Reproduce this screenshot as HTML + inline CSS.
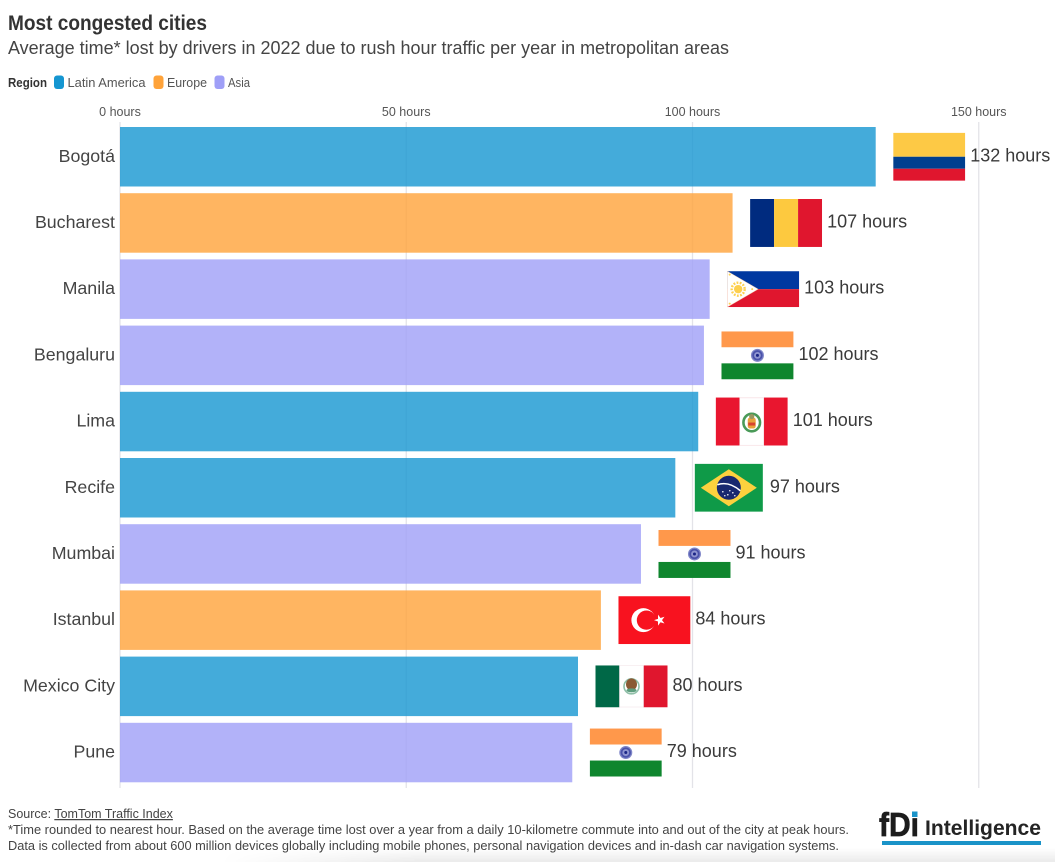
<!DOCTYPE html>
<html lang="en">
<head>
<meta charset="utf-8">
<title>Most congested cities</title>
<style>
html,body{margin:0;padding:0;background:#fff;}
body{width:1055px;height:862px;overflow:hidden;font-family:"Liberation Sans",sans-serif;}
svg{display:block;}
text{font-family:"Liberation Sans",sans-serif;fill:#3a3a3a;}
</style>
</head>
<body>
<svg id="chart" width="1055" height="862" viewBox="0 0 1055 862" xmlns="http://www.w3.org/2000/svg">
  <defs>
    <linearGradient id="bottom-shade" x1="0" y1="0" x2="0" y2="1">
      <stop offset="0" stop-color="#000" stop-opacity="0"/>
      <stop offset="1" stop-color="#000" stop-opacity="0.08"/>
    </linearGradient>
    <linearGradient id="side-fade" gradientUnits="userSpaceOnUse" x1="220" y1="0" x2="420" y2="0">
      <stop offset="0" stop-color="#000"/>
      <stop offset="1" stop-color="#fff"/>
    </linearGradient>
    <mask id="side-mask" maskUnits="userSpaceOnUse" x="0" y="840" width="1055" height="22">
      <rect x="0" y="840" width="1055" height="22" fill="url(#side-fade)"/>
    </mask>
    <symbol id="flag-co" viewBox="0 0 72 48" width="72" height="48">
      <rect width="72" height="24" fill="#fdc945"/><rect y="24" width="72" height="12" fill="#003f8f"/><rect y="36" width="72" height="12" fill="#e0162e"/>
    </symbol>
    <symbol id="flag-ro" viewBox="0 0 72 48" width="72" height="48">
      <rect width="24" height="48" fill="#002b7f"/><rect x="24" width="24" height="48" fill="#fdc93f"/><rect x="48" width="24" height="48" fill="#e0162e"/>
    </symbol>
    <symbol id="flag-ph" viewBox="0 0 72 36" width="72" height="36">
      <rect width="72" height="18" fill="#0038a0"/><rect y="18" width="72" height="18" fill="#e0162e"/>
      <polygon points="0,0 31,18 0,36" fill="#fff" stroke="#f0c8a8" stroke-width=".5"/>
      <circle cx="11" cy="18" r="4.2" fill="#fdd04f"/>
      <circle cx="11" cy="18" r="6.5" fill="none" stroke="#fdd04f" stroke-width="2.4" stroke-dasharray="1.8 1.4"/>
      <circle cx="2.5" cy="3.5" r="1" fill="#fdd04f"/><circle cx="2.5" cy="32.5" r="1" fill="#fdd04f"/><circle cx="25" cy="18" r="1" fill="#fdd04f"/>
    </symbol>
    <symbol id="flag-in" viewBox="0 0 72 48" width="72" height="48">
      <rect width="72" height="16" fill="#ff984b"/><rect y="16" width="72" height="16" fill="#fff"/><rect y="32" width="72" height="16" fill="#0f862e"/>
      <circle cx="36" cy="24" r="6.5" fill="#7f86c8"/><circle cx="36" cy="24" r="5.2" fill="#4a52aa"/><circle cx="36" cy="24" r="3.4" fill="#8f95d0"/><circle cx="36" cy="24" r="1.5" fill="#1a2586"/>
    </symbol>
    <symbol id="flag-pe" viewBox="0 0 72 48" width="72" height="48">
      <rect width="72" height="48" fill="#fff"/><rect width="24" height="48" fill="#e9162f"/><rect x="48" width="24" height="48" fill="#e9162f"/>
      <rect x="24" y=".3" width="24" height="47.4" fill="none" stroke="#f6d4da" stroke-width=".6"/>
      <ellipse cx="36" cy="25" rx="8.3" ry="8.8" fill="none" stroke="#4a9a58" stroke-width="2.6"/>
      <rect x="32" y="20" width="8" height="11" rx="2.5" fill="#e8a33c"/><rect x="32.5" y="25" width="7" height="3" fill="#d8442f"/><circle cx="36" cy="19" r="2.6" fill="#9a9660"/>
    </symbol>
    <symbol id="flag-br" viewBox="0 0 72 48" width="72" height="48">
      <rect x="2" width="68" height="48" fill="#0f9a48"/>
      <polygon points="8,24 36,5.5 64,24 36,42.5" fill="#fcd13e"/>
      <circle cx="36" cy="24" r="12" fill="#18286f"/>
      <path d="M24.5 21 Q36 17 47.5 27" fill="none" stroke="#fff" stroke-width="1.5"/>
      <circle cx="30" cy="28" r=".8" fill="#fff"/><circle cx="35" cy="31" r=".8" fill="#fff"/><circle cx="40" cy="29" r=".8" fill="#fff"/><circle cx="37" cy="27" r=".7" fill="#fff"/><circle cx="32" cy="32" r=".7" fill="#fff"/><circle cx="42" cy="32" r=".7" fill="#fff"/>
    </symbol>
    <symbol id="flag-tr" viewBox="0 0 72 48" width="72" height="48">
      <rect width="72" height="48" fill="#f8121f"/>
      <circle cx="25" cy="24" r="12" fill="#fff"/><circle cx="28" cy="24" r="9.6" fill="#f8121f"/>
      <polygon points="35.6,24 39.6,25.3 39.6,29.5 42.1,26.1 46.1,27.4 43.6,24 46.1,20.6 42.1,21.9 39.6,18.5 39.6,22.7" fill="#fff"/>
    </symbol>
    <symbol id="flag-mx" viewBox="0 0 72 42" width="72" height="42">
      <rect width="72" height="42" fill="#fff"/><rect width="24" height="42" fill="#006847"/><rect x="48" width="24" height="42" fill="#e0162e"/>
      <rect x="24" y=".3" width="24" height="41.4" fill="none" stroke="#f0dfe6" stroke-width=".6"/>
      <ellipse cx="36" cy="21" rx="7.5" ry="7.5" fill="none" stroke="#8fbfa8" stroke-width="1.6"/>
      <ellipse cx="36" cy="19" rx="5.5" ry="6" fill="#8a5a34"/><ellipse cx="36" cy="25" rx="5" ry="2" fill="#5e9e7e"/>
    </symbol>
  </defs>

  <rect width="1055" height="862" fill="#fff"/>
  <rect x="0" y="848" width="1055" height="14" fill="url(#bottom-shade)" mask="url(#side-mask)"/>

  <g>
    <text x="8" y="30" font-size="21" font-weight="700" textLength="199" lengthAdjust="spacingAndGlyphs" style="fill:#333">Most congested cities</text>
    <text x="8" y="54" font-size="18" textLength="721" lengthAdjust="spacingAndGlyphs" style="fill:#444">Average time* lost by drivers in 2022 due to rush hour traffic per year in metropolitan areas</text>
  </g>

  <g>
    <text x="8" y="87" font-size="13" font-weight="700" textLength="39" lengthAdjust="spacingAndGlyphs" style="fill:#333">Region</text>
    <g>
      <rect x="54" y="75.5" width="10" height="13.5" rx="3" fill="#1596d1"/>
      <text x="67.5" y="87" font-size="13" textLength="78" lengthAdjust="spacingAndGlyphs" style="fill:#555">Latin America</text>
    </g>
    <g>
      <rect x="153.5" y="75.5" width="10" height="13.5" rx="3" fill="#ffa33a"/>
      <text x="167" y="87" font-size="13" textLength="40" lengthAdjust="spacingAndGlyphs" style="fill:#555">Europe</text>
    </g>
    <g>
      <rect x="214.5" y="75.5" width="10" height="13.5" rx="3" fill="#9f9ff7"/>
      <text x="228" y="87" font-size="13" textLength="22" lengthAdjust="spacingAndGlyphs" style="fill:#555">Asia</text>
    </g>
  </g>

  <g id="grid"></g>
  <g id="ticks"></g>
  <g id="bars"></g>
  <g id="cities"></g>
  <g id="flags"></g>
  <g id="values"></g>

  <g>
    <text x="8" y="818" font-size="12.5" style="fill:#444">Source: <tspan text-decoration="underline">TomTom Traffic Index</tspan></text>
    <text x="8" y="834" font-size="12.5" textLength="841" lengthAdjust="spacingAndGlyphs" style="fill:#444">*Time rounded to nearest hour. Based on the average time lost over a year from a daily 10-kilometre commute into and out of the city at peak hours.</text>
    <text x="8" y="850" font-size="12.5" textLength="831" lengthAdjust="spacingAndGlyphs" style="fill:#444">Data is collected from about 600 million devices globally including mobile phones, personal navigation devices and in-dash car navigation systems.</text>
  </g>

  <g>
    <text x="879" y="836" font-size="33" font-weight="700" textLength="40" lengthAdjust="spacingAndGlyphs" stroke="#1c1c1c" stroke-width="0.7" style="fill:#1c1c1c">fDi</text>
    <rect x="912" y="811.5" width="5.5" height="5.5" fill="#1a93c8"/>
    <text x="925" y="835" font-size="21" font-weight="700" textLength="116" lengthAdjust="spacingAndGlyphs" style="fill:#242424">Intelligence</text>
    <rect x="882" y="841" width="159" height="4" fill="#1a93c8"/>
  </g>
</svg>

<script>
const cities = ["Bogotá","Bucharest","Manila","Bengaluru","Lima","Recife","Mumbai","Istanbul","Mexico City","Pune"];
const hours = [132,107,103,102,101,97,91,84,80,79];
const regions = ["latam","europe","asia","asia","latam","latam","asia","europe","latam","asia"];
const flagCodes = ["co","ro","ph","in","pe","br","in","tr","mx","in"];
const tickValues = [0,50,100,150];
const tickLabels = ["0 hours","50 hours","100 hours","150 hours"];
const regionColors = {latam:"#1596d1",europe:"#ffa33a",asia:"#9f9ff7"};
const flagHeights = {co:48,ro:48,ph:36,in:48,pe:48,br:48,tr:48,mx:42};

const NS = "http://www.w3.org/2000/svg";
const X0 = 120, PX_PER_HOUR = 5.725;
const ROW0 = 127, ROW_STEP = 66.2, BAR_H = 59.5, FLAG_W = 72;
function xScale(v){ return X0 + v * PX_PER_HOUR; }
function yScale(i){ return ROW0 + i * ROW_STEP; }
function make(tag, parentId, attrs, txt){
  const n = document.createElementNS(NS, tag);
  for (const k in attrs) n.setAttribute(k, attrs[k]);
  if (txt !== undefined) n.textContent = txt;
  document.getElementById(parentId).appendChild(n);
  return n;
}

tickValues.forEach(function(t, i){
  const line = make("line", "grid", {x1:xScale(t), x2:xScale(t), y1:122, y2:788, stroke:"#e3e3e8", "stroke-width":1.3});
  
  
  const label = make("text", "ticks", {x:xScale(t), y:116, "text-anchor":"middle", "font-size":12.5, style:"fill:#555"}, tickLabels[i]);
  
  
});

cities.forEach(function(city, i){
  const top = yScale(i), mid = top + BAR_H / 2, end = xScale(hours[i]);
  const bar = make("rect", "bars", {x:X0, y:top, width:end - X0, height:BAR_H, fill:regionColors[regions[i]], "fill-opacity":0.8});
  
  

  const cityLabel = make("text", "cities", {x:115, y:mid + 5, "text-anchor":"end", "font-size":17.8, style:"fill:#444"}, city);
  
  

  const code = flagCodes[i], h = flagHeights[code];
  const flag = make("use", "flags", {href:"#flag-" + code, x:end + 17.5, y:mid - h / 2, width:FLAG_W, height:h});
  
  

  const value = make("text", "values", {x:end + 17.5 + FLAG_W + 5, y:mid + 4.5, "font-size":18, style:"fill:#3a3a3a"}, hours[i] + " hours");
  
  
});
</script>
</body>
</html>
